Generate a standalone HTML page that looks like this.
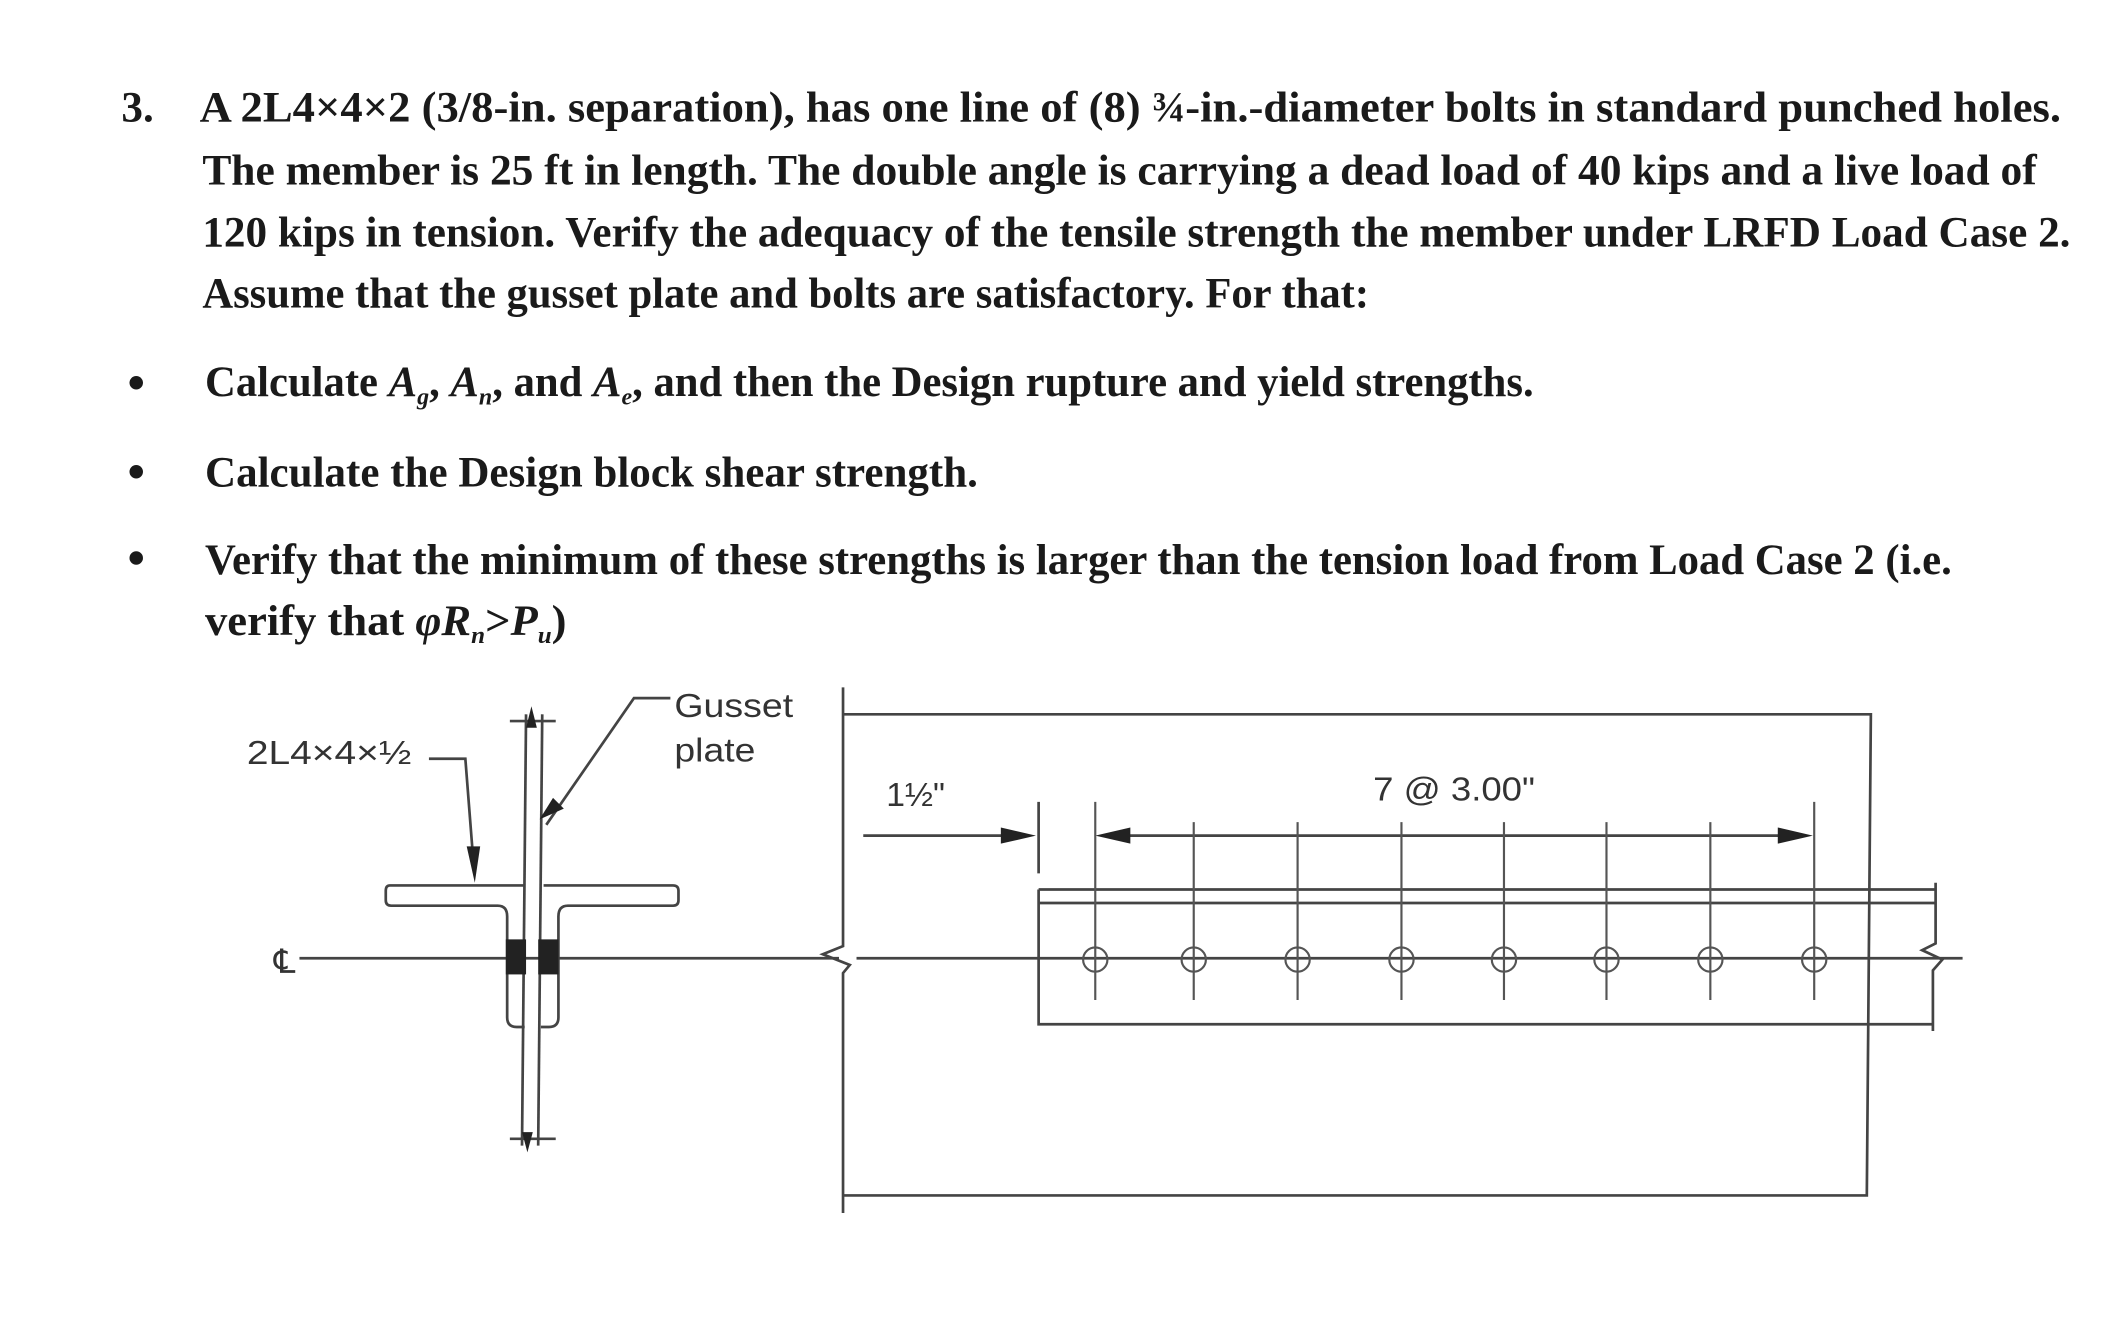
<!DOCTYPE html>
<html><head><meta charset="utf-8"><style>
html,body{margin:0;padding:0;background:#fff;}
svg{display:block;}
.t{font-family:"Liberation Serif",serif;font-weight:bold;font-size:32px;fill:#1a1a1a;}
.s{font-family:"Liberation Sans",sans-serif;font-size:25px;fill:#333;}
</style></head><body>
<svg width="2115" height="1341" viewBox="0 0 1568 995" preserveAspectRatio="none" xmlns="http://www.w3.org/2000/svg">
<rect width="1568" height="995" fill="#fff"/>
<text class="t" x="90" y="90">3.</text>
<text class="t" x="148" y="90" textLength="1380" lengthAdjust="spacingAndGlyphs">A 2L4×4×2 (3/8-in. separation), has one line of (8) ¾-in.-diameter bolts in standard punched holes.</text>
<text class="t" x="150" y="137" textLength="1360" lengthAdjust="spacingAndGlyphs">The member is 25 ft in length. The double angle is carrying a dead load of 40 kips and a live load of</text>
<text class="t" x="150" y="183" textLength="1385" lengthAdjust="spacingAndGlyphs">120 kips in tension. Verify the adequacy of the tensile strength the member under LRFD Load Case 2.</text>
<text class="t" x="150" y="228" textLength="865" lengthAdjust="spacingAndGlyphs">Assume that the gusset plate and bolts are satisfactory. For that:</text>
<circle cx="101" cy="284" r="5" fill="#1a1a1a"/>
<circle cx="101" cy="350" r="5" fill="#1a1a1a"/>
<circle cx="101" cy="414" r="5" fill="#1a1a1a"/>
<text class="t" x="152" y="294" textLength="985" lengthAdjust="spacingAndGlyphs">Calculate <tspan font-style="italic">A<tspan font-size="18" dy="6">g</tspan></tspan><tspan dy="-6">, </tspan><tspan font-style="italic">A<tspan font-size="18" dy="6">n</tspan></tspan><tspan dy="-6">, and </tspan><tspan font-style="italic">A<tspan font-size="18" dy="6">e</tspan></tspan><tspan dy="-6">, and then the Design rupture and yield strengths.</tspan></text>
<text class="t" x="152" y="361" textLength="573" lengthAdjust="spacingAndGlyphs">Calculate the Design block shear strength.</text>
<text class="t" x="152" y="426" textLength="1295" lengthAdjust="spacingAndGlyphs">Verify that the minimum of these strengths is larger than the tension load from Load Case 2 (i.e.</text>
<text class="t" x="152" y="471" textLength="268" lengthAdjust="spacingAndGlyphs">verify that <tspan font-style="italic">φR<tspan font-size="18" dy="6">n</tspan></tspan><tspan dy="-6">&gt;</tspan><tspan font-style="italic">P<tspan font-size="18" dy="6">u</tspan></tspan><tspan dy="-6">)</tspan></text>

<g stroke="#444" fill="none" stroke-width="2">
<line x1="222" y1="711" x2="622" y2="711"/>
<path d="M625 510 L625 702 L610 708 L630 716 L625 722 L625 900"/>
<line x1="635" y1="711" x2="1455" y2="711"/>
<line x1="390" y1="530" x2="387" y2="850"/>
<line x1="402" y1="530" x2="399" y2="850"/>
<line x1="378" y1="535" x2="412" y2="535"/>
<line x1="378" y1="845" x2="412" y2="845"/>
<path d="M389 657 L289 657 Q286 657 286 661 L286 668 Q286 672 290 672 L369 672 Q376 672 376 680 L376 755 Q376 762 383 762 L389 762"/>
<path d="M403 657 L499 657 Q503 657 503 661 L503 668 Q503 672 499 672 L421 672 Q414 672 414 680 L414 755 Q414 762 407 762 L401 762"/>
<path d="M318 563 L345 563 L351 640"/>
<path d="M497 518 L470 518 L405 612"/>
<path d="M625 530 L1387 530 L1384 887 L625 887"/>
<path d="M770 660 L770 760 L1433 760"/>
<line x1="770" y1="660" x2="1435" y2="660"/>
<line x1="770" y1="670" x2="1435" y2="670"/>
<path d="M1435 655 L1435 700 L1425 705 L1440 712 L1433 720 L1433 765"/>
<line x1="640" y1="620" x2="760" y2="620"/>
<line x1="770" y1="595" x2="770" y2="648"/>
<line x1="822" y1="620" x2="1335" y2="620"/>
</g>
<g fill="#222">
<path d="M346 628 L356 628 L352 655 Z"/>
<path d="M400 608 L410 592 L418 600 Z"/>
<path d="M742 614 L768 620 L742 626 Z"/>
<path d="M838 614 L812 620 L838 626 Z"/>
<path d="M1318 614 L1344 620 L1318 626 Z"/>
<rect x="375" y="697" width="15" height="26"/>
<rect x="399" y="697" width="15" height="26"/>
<path d="M394 524 L390 540 L398 540 Z"/>
<path d="M391 855 L387 840 L395 840 Z"/>
</g>
<g stroke="#555" stroke-width="1.6" fill="none">
<line x1="812" y1="595" x2="812" y2="742"/><circle cx="812" cy="712" r="9"/>
<line x1="885" y1="610" x2="885" y2="742"/><circle cx="885" cy="712" r="9"/>
<line x1="962" y1="610" x2="962" y2="742"/><circle cx="962" cy="712" r="9"/>
<line x1="1039" y1="610" x2="1039" y2="742"/><circle cx="1039" cy="712" r="9"/>
<line x1="1115" y1="610" x2="1115" y2="742"/><circle cx="1115" cy="712" r="9"/>
<line x1="1191" y1="610" x2="1191" y2="742"/><circle cx="1191" cy="712" r="9"/>
<line x1="1268" y1="610" x2="1268" y2="742"/><circle cx="1268" cy="712" r="9"/>
<line x1="1345" y1="595" x2="1345" y2="742"/><circle cx="1345" cy="712" r="9"/>
</g>
<text class="s" x="183" y="567" textLength="122" lengthAdjust="spacingAndGlyphs">2L4×4×½</text>
<text class="s" x="500" y="532" textLength="88" lengthAdjust="spacingAndGlyphs">Gusset</text>
<text class="s" x="500" y="565" textLength="60" lengthAdjust="spacingAndGlyphs">plate</text>
<text class="s" x="657" y="598" font-size="21">1½"</text>
<text class="s" x="1018" y="594" textLength="120" lengthAdjust="spacingAndGlyphs">7 @ 3.00"</text>
<text class="s" x="203" y="722" font-size="28">℄</text>
</svg>
</body></html>
